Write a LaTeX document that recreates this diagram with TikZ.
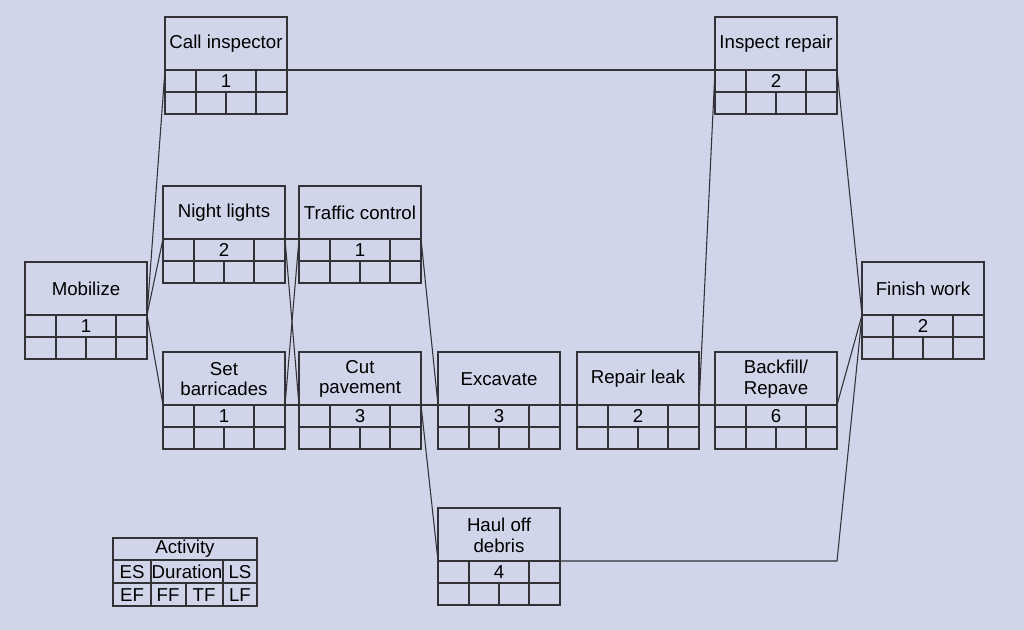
\documentclass[tikz,border=0pt]{standalone}
\usepackage{fontspec}
\setmainfont{Liberation Sans}
\definecolor{bg}{RGB}{208,213,233}
\definecolor{ln}{RGB}{50,50,55}
\tikzset{txt/.style={font=\fontsize{14}{15.5}\selectfont,inner sep=0pt,text=black,align=center}}
\newcommand\actbox[5]{%
 \begin{scope}[shift={(#2,#3)}]
  \draw[ln,line width=0.8pt] (0,0) rectangle (122,97);
  \draw[ln,line width=0.8pt] (0,53) -- (122,53) (0,75) -- (122,75)
    (31,53) -- (31,97) (91,53) -- (91,97) (61,75) -- (61,97);
  \node[txt] (#1) at (61,27) {#4};
  \node[txt] at (61,64) {#5};
  \coordinate (#1w) at (0,53);
  \coordinate (#1e) at (122,53);
 \end{scope}}
\begin{document}
\begin{tikzpicture}[x=0.75pt,y=-0.75pt]
\fill[bg] (0,0) rectangle (1024,630);
\useasboundingbox (0,0) rectangle (1024,630);
\actbox{ci}{165}{17}{Call inspector}{1}
\actbox{ir}{715}{17}{Inspect repair}{2}
\actbox{nl}{163}{186}{Night lights}{2}
\actbox{tc}{299}{186}{Traffic control}{1}
\actbox{mo}{25}{262}{Mobilize}{1}
\actbox{fw}{862}{262}{Finish work}{2}
\actbox{sb}{163}{352}{Set\\barricades}{1}
\actbox{cp}{299}{352}{Cut\\pavement}{3}
\actbox{ex}{438}{352}{Excavate}{3}
\actbox{rl}{577}{352}{Repair leak}{2}
\actbox{bf}{715}{352}{Backfill/\\Repave}{6}
\actbox{ho}{438}{508}{Haul off\\debris}{4}
\coordinate (hk) at (837,561);
\begin{scope}[ln,line width=0.8pt]
\draw (moe) -- (ciw); \draw (moe) -- (nlw); \draw (moe) -- (sbw);
\draw (nle) -- (tcw); \draw (nle) -- (cpw);
\draw (sbe) -- (tcw); \draw (sbe) -- (cpw);
\draw (tce) -- (exw); \draw (cpe) -- (exw); \draw (cpe) -- (how);
\draw (exe) -- (rlw); \draw (rle) -- (irw); \draw (rle) -- (bfw);
\draw (cie) -- (irw);
\draw (ire) -- (fww); \draw (bfe) -- (fww); \draw (hoe) -- (hk) -- (fww);
\end{scope}
\begin{scope}[shift={(113,538)},ln,line width=0.8pt]
\draw (0,0) rectangle (144,68);
\draw (0,22) -- (144,22) (0,45) -- (144,45)
 (38,22) -- (38,68) (110,22) -- (110,68) (73,45) -- (73,68);
\node[txt] (lg) at (72,11) {Activity};
\node[txt] at (19,34) {ES};
\node[txt] at (74,34) {Duration};
\node[txt] at (127,34) {LS};
\node[txt] at (19,57) {EF};
\node[txt] at (55,57) {FF};
\node[txt] at (91,57) {TF};
\node[txt] at (127,57) {LF};
\end{scope}
\end{tikzpicture}
\end{document}
